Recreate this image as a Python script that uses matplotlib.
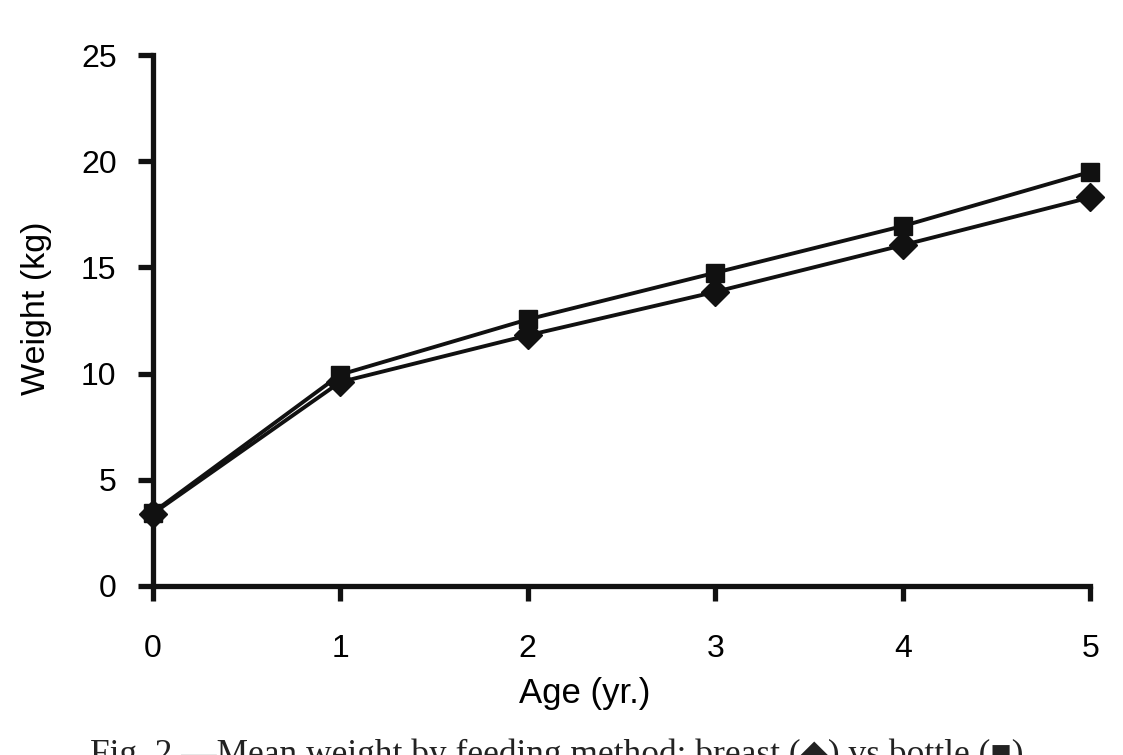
import matplotlib
matplotlib.use("Agg")
import matplotlib.pyplot as plt

ages = [0, 1, 2, 3, 4, 5]
bottle = [3.45, 9.95, 12.55, 14.75, 16.95, 19.5]
breast = [3.4, 9.6, 11.8, 13.85, 16.05, 18.3]
yticks = [0, 5, 10, 15, 20, 25]

plt.rcParams['font.family'] = ['Liberation Sans', 'DejaVu Sans']

fig = plt.figure(figsize=(11.23, 7.55), dpi=100)
ax = fig.add_axes([0.136, 0.224, 0.835, 0.703])

ax.plot(ages, breast, color='#111111', lw=2.8, marker='D', ms=14, clip_on=False, zorder=3)
ax.plot(ages, bottle, color='#111111', lw=2.8, marker='s', ms=13, clip_on=False, zorder=3)

ax.set_xlim(0, 5)
ax.set_ylim(0, 25)
ax.set_xticks(ages)
ax.set_yticks(yticks)
ax.tick_params(axis='both', direction='out', length=11, width=3.8, labelsize=23, color='#111111')
ax.tick_params(axis='x', pad=24)
ax.tick_params(axis='y', pad=15)
for s in ['top', 'right']:
    ax.spines[s].set_visible(False)
for s in ['left', 'bottom']:
    ax.spines[s].set_linewidth(3.8)
    ax.spines[s].set_color('#111111')

ax.set_xlabel("Age (yr.)", fontsize=25)
ax.set_ylabel("Weight (kg)", fontsize=24.5)
ax.xaxis.set_label_coords(0.461, -0.171)
ax.yaxis.set_label_coords(-0.107, 0.524)

# caption sits at the very bottom edge, as in the scanned figure
fig.text(0.5, -0.012, "Fig. 2.\u2014Mean weight by feeding method: breast (\u25c6) vs bottle (\u25a0).",
         ha='center', va='baseline', fontsize=25.5, family=['Liberation Serif', 'DejaVu Sans'], color='#222222')

fig.savefig("out.png", dpi=100)
